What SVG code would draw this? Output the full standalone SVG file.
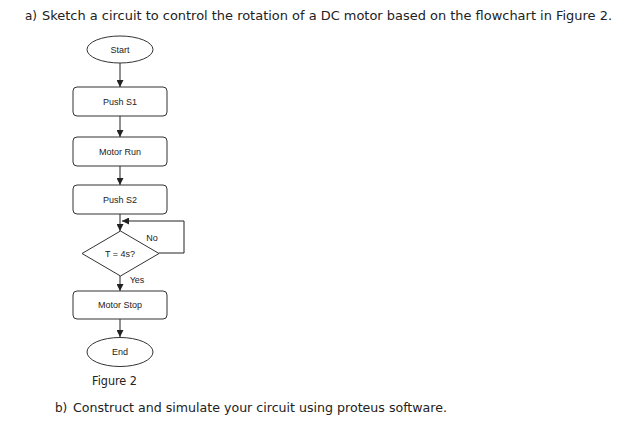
<svg xmlns="http://www.w3.org/2000/svg" width="624" height="434" viewBox="0 0 624 434">
<style>
.q{font-family:"DejaVu Sans","Liberation Sans",sans-serif;font-size:12px;fill:#222}
.n{fill:#fff;stroke:#333;stroke-width:1}
.t{font-family:"Liberation Sans",Arial,sans-serif;font-size:9px;fill:#222;text-anchor:middle}
.c{fill:none;stroke:#222;stroke-width:1}
</style>
<defs>
<marker id="ah" viewBox="0 0 10 10" refX="10" refY="5" markerWidth="7" markerHeight="7" markerUnits="userSpaceOnUse" orient="auto">
<path d="M0,0 L10,5 L0,10 z" fill="#222"/>
</marker>
</defs>
<rect width="624" height="434" fill="#fff"/>
<text class="q" x="25" y="20">a)</text>
<text class="q" x="42" y="20" textLength="570" lengthAdjust="spacingAndGlyphs">Sketch a circuit to control the rotation of a DC motor based on the flowchart in Figure 2.</text>

<g id="connectors">
<path class="c" d="M120,63 V87" marker-end="url(#ah)"/>
<path class="c" d="M120,116 V137" marker-end="url(#ah)"/>
<path class="c" d="M120,166 V185" marker-end="url(#ah)"/>
<path class="c" d="M120,214 V231" marker-end="url(#ah)"/>
<path class="c" d="M159,253 H184 V221 H122" marker-end="url(#ah)"/>
<path class="c" d="M120,276 V291" marker-end="url(#ah)"/>
<path class="c" d="M120,319 V337" marker-end="url(#ah)"/>
<text class="t" x="152" y="241">No</text>
<text class="t" x="137" y="283">Yes</text>
</g>

<g id="start"><ellipse class="n" cx="120" cy="49.5" rx="33" ry="13.5"/><text class="t" x="120" y="52.5">Start</text></g>
<g id="push-s1"><rect class="n" x="73" y="87" width="94" height="29" rx="4"/><text class="t" x="120" y="104.5">Push S1</text></g>
<g id="motor-run"><rect class="n" x="73" y="137" width="94" height="29" rx="4"/><text class="t" x="120" y="154.5">Motor Run</text></g>
<g id="push-s2"><rect class="n" x="73" y="185" width="94" height="29" rx="4"/><text class="t" x="120" y="202.5">Push S2</text></g>
<g id="decision"><polygon class="n" points="120.5,231 159,253.5 120.5,276 82,253.5"/><text class="t" x="120" y="256.5">T = 4s?</text></g>
<g id="motor-stop"><rect class="n" x="73" y="291" width="94" height="28" rx="4"/><text class="t" x="120" y="308">Motor Stop</text></g>
<g id="end"><ellipse class="n" cx="120" cy="352" rx="33" ry="14.5"/><text class="t" x="120" y="355">End</text></g>

<text class="q" x="92" y="385" textLength="45" lengthAdjust="spacingAndGlyphs">Figure 2</text>
<text class="q" x="55" y="412">b)</text>
<text class="q" x="73" y="412" textLength="374" lengthAdjust="spacingAndGlyphs">Construct and simulate your circuit using proteus software.</text>
</svg>
